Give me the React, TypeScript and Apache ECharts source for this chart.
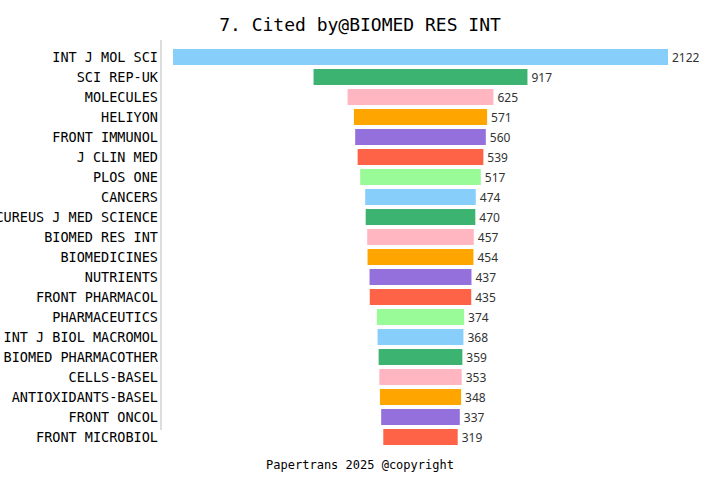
import React, { useEffect, useRef } from "react";
import * as echarts from "echarts";

const journals = [
  "INT J MOL SCI", "SCI REP-UK", "MOLECULES", "HELIYON", "FRONT IMMUNOL",
  "J CLIN MED", "PLOS ONE", "CANCERS", "CUREUS J MED SCIENCE", "BIOMED RES INT",
  "BIOMEDICINES", "NUTRIENTS", "FRONT PHARMACOL", "PHARMACEUTICS", "INT J BIOL MACROMOL",
  "BIOMED PHARMACOTHER", "CELLS-BASEL", "ANTIOXIDANTS-BASEL", "FRONT ONCOL", "FRONT MICROBIOL",
];
const citations = [2122, 917, 625, 571, 560, 539, 517, 474, 470, 457, 454, 437, 435, 374, 368, 359, 353, 348, 337, 319];
const palette = ["#87CEFA", "#3CB371", "#FFB6C1", "#FFA500", "#9370DB", "#FF6347", "#98FB98"];

const maxVal = Math.max(...citations);
const pads = citations.map((v) => (maxVal - v) / 2);

export default function App() {
  const ref = useRef<HTMLDivElement>(null);
  useEffect(() => {
    const chart = echarts.init(ref.current!, null, { renderer: "svg" });
    chart.setOption({
      animation: false,
      backgroundColor: "#fff",
      title: {
        text: "7. Cited by@BIOMED RES INT",
        left: "center",
        top: 10,
        textStyle: { fontFamily: "DejaVu Sans Mono", fontSize: 18, fontWeight: "normal", color: "#000" },
      },
      graphic: [
        { type: "line", shape: { x1: 161, y1: 40, x2: 161, y2: 430 }, style: { stroke: "#ddd", lineWidth: 2 } },
        {
          type: "text", left: "center", top: 459,
          style: { text: "Papertrans 2025 @copyright", font: "12px 'DejaVu Sans Mono'", fill: "#000" },
        },
      ],
      grid: { left: 173, width: 495, top: 47, height: 400, containLabel: false, outerBoundsMode: "none" },
      xAxis: { type: "value", min: 0, max: maxVal, show: false },
      yAxis: {
        type: "category",
        data: journals,
        inverse: true,
        offset: 13,
        axisLine: { show: false },
        axisTick: { show: false },
        axisLabel: { margin: 2, fontFamily: "DejaVu Sans Mono", fontSize: 13.5, color: "#000" },
      },
      series: [
        {
          type: "bar", stack: "s", data: pads, barWidth: 16,
          itemStyle: { color: "transparent" }, silent: true,
        },
        {
          type: "bar", stack: "s", barWidth: 16,
          data: citations.map((v, i) => ({ value: v, itemStyle: { color: palette[i % palette.length] } })),
          label: {
            show: true, position: "right", distance: 4,
            fontFamily: "Noto Sans", fontSize: 12, color: "#333",
          },
        },
      ],
    });
    return () => chart.dispose();
  }, []);
  return <div ref={ref} style={{ position: "absolute", left: 0, top: 0, width: 720, height: 480 }} />;
}
